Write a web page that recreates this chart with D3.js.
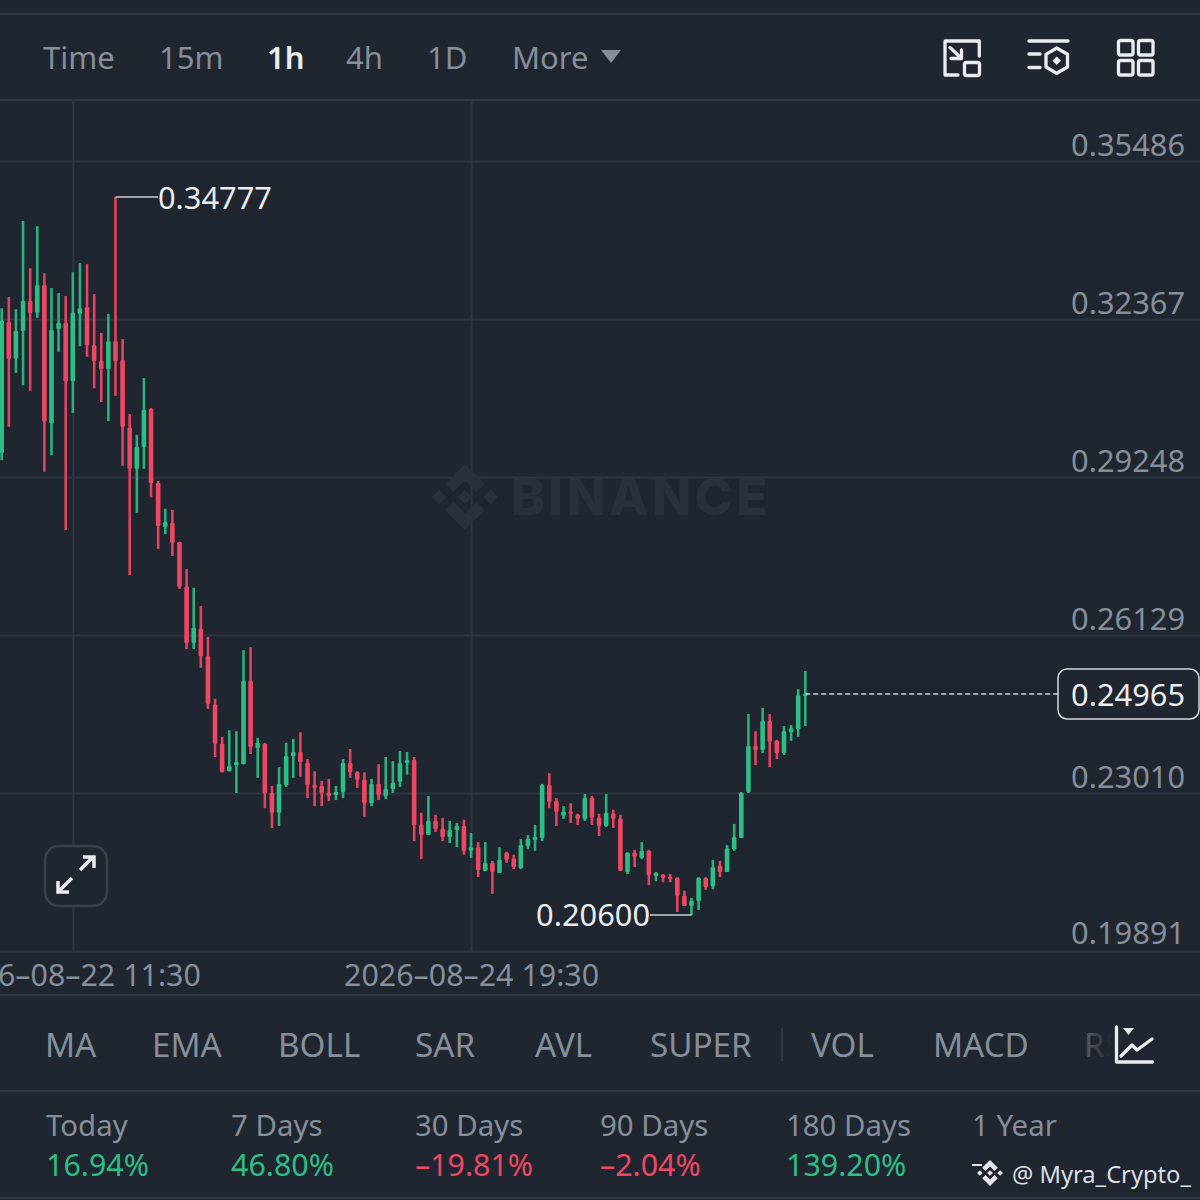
<!DOCTYPE html>
<html lang="en">
<head>
<meta charset="UTF-8">
<title>Binance 1h candles</title>
<script src="https://d3js.org/d3.v7.min.js"></script>
<style>
    html, body { margin: 0; padding: 0; background: #1f2630; }
    svg { display: block; }
    text { font-family: "Noto Sans", sans-serif; }
</style>
</head>
<body>
<div id="chart"></div>
<script>
// candle values, one entry per hour
var opens = [.2972,.3231,.3158,.3213,.3272,.3249,.3304,.3031,.3217,.3229,.3114,.3247,.3260,.3185,.3154,.3138,.3193,.3156,.3022,.2941,.2984,.3059,.2913,.2826,.2834,.2796,.2708,.2597,.2625,.2571,.2475,.2398,.2344,.2356,.2358,.2522,.2390,.2398,.2301,.2262,.2317,.2374,.2382,.2360,.2317,.2315,.2301,.2297,.2303,.2360,.2342,.2327,.2281,.2319,.2295,.2309,.2323,.2360,.2366,.2238,.2218,.2246,.2230,.2214,.2228,.2236,.2187,.2194,.2147,.2163,.2143,.2183,.2171,.2153,.2196,.2208,.2212,.2317,.2285,.2256,.2264,.2258,.2250,.2291,.2252,.2236,.2260,.2250,.2145,.2183,.2173,.2187,.2137,.2139,.2135,.2133,.2098,.2078,.2088,.2133,.2117,.2157,.2145,.2190,.2212,.2303,.2394,.2386,.2443,.2404,.2380,.2421,.2427,.2494];
var highs = [.3258,.3280,.3256,.3430,.3337,.3420,.3327,.3298,.3288,.3282,.3329,.3347,.3345,.3286,.3209,.3247,.34777,.3197,.3049,.3008,.3120,.3061,.2917,.2862,.2860,.2797,.2743,.2706,.2670,.2609,.2487,.2412,.2425,.2423,.2583,.2589,.2410,.2400,.2315,.2352,.2400,.2408,.2421,.2368,.2344,.2325,.2329,.2315,.2368,.2388,.2344,.2342,.2329,.2358,.2372,.2364,.2384,.2382,.2372,.2262,.2295,.2258,.2252,.2246,.2242,.2248,.2222,.2204,.2204,.2167,.2194,.2185,.2179,.2210,.2218,.2238,.2319,.2340,.2291,.2275,.2281,.2260,.2299,.2295,.2260,.2299,.2268,.2258,.2184,.2189,.2204,.2189,.2145,.2141,.2141,.2135,.2108,.2094,.2135,.2135,.2169,.2167,.2198,.2240,.2303,.2457,.2423,.2469,.2457,.2406,.2433,.2435,.2506,.2542];
var lows = [.2958,.3024,.3130,.3106,.3095,.3239,.2935,.2968,.3172,.2820,.3051,.3183,.3162,.3100,.3073,.3035,.3085,.2947,.2731,.2854,.2941,.2885,.2783,.2812,.2769,.2704,.2585,.2585,.2548,.2467,.2372,.2342,.2344,.2301,.2358,.2378,.2331,.2271,.2232,.2236,.2313,.2331,.2333,.2291,.2275,.2275,.2285,.2287,.2291,.2331,.2311,.2254,.2275,.2287,.2289,.2301,.2313,.2337,.2206,.2171,.2218,.2224,.2206,.2202,.2194,.2179,.2173,.2135,.2147,.2102,.2143,.2163,.2151,.2151,.2190,.2187,.2206,.2271,.2236,.2250,.2242,.2238,.2246,.2238,.2216,.2234,.2232,.2147,.2141,.2155,.2171,.2119,.2127,.2125,.2125,.2066,.2078,.2060,.2070,.2110,.2111,.2135,.2145,.2187,.2212,.2301,.2356,.2380,.2352,.2368,.2376,.2404,.2412,.2433];
var closes = [.3233,.3158,.3213,.3272,.3249,.3304,.3035,.3215,.3229,.3114,.3249,.3258,.3185,.3154,.3138,.3193,.3154,.3024,.2941,.2984,.3057,.2913,.2828,.2836,.2795,.2708,.2597,.2627,.2571,.2477,.2398,.2342,.2354,.2362,.2522,.2392,.2400,.2301,.2262,.2319,.2374,.2382,.2362,.2317,.2311,.2301,.2295,.2303,.2360,.2342,.2327,.2281,.2319,.2297,.2309,.2321,.2360,.2366,.2238,.2218,.2246,.2230,.2214,.2228,.2236,.2187,.2194,.2149,.2163,.2145,.2169,.2169,.2155,.2198,.2210,.2214,.2317,.2283,.2264,.2264,.2260,.2250,.2291,.2252,.2236,.2262,.2250,.2147,.2183,.2175,.2187,.2139,.2143,.2133,.2131,.2098,.2078,.2088,.2133,.2115,.2155,.2145,.2192,.2214,.2301,.2394,.2386,.2443,.2402,.2380,.2423,.2429,.2494,.24965];

var priceTicks = [0.35486, 0.32367, 0.29248, 0.26129, 0.23010, 0.19891];
var timeTickIndex = [10, 66];
var timeTickLabels = ['2026\u201308\u201322 11:30', '2026\u201308\u201324 19:30'];
var highLabel = 0.34777, lowLabel = 0.20600, lastPrice = 0.24965;

var tabs = ['Time', '15m', '1h', '4h', '1D', 'More'];
var tabX = [43, 159, 267, 346, 427, 512];
var indicators = ['MA', 'EMA', 'BOLL', 'SAR', 'AVL', 'SUPER', 'VOL', 'MACD'];
var indicatorX = [45, 152, 278, 415, 535, 650, 811, 933];
var periods = ['Today', '7 Days', '30 Days', '90 Days', '180 Days', '1 Year'];
var periodChange = ['16.94%', '46.80%', '\u201319.81%', '\u20132.04%', '139.20%'];
var periodX = [46, 231, 415, 600, 786, 972];

var bg = '#1f2630', grid = '#2e3540', muted = '#868e99', white = '#eaecef';
var upBody = '#2ebd85', upWick = '#2bb07d', downBody = '#ee4763', downWick = '#e2445f';

var svg = d3.select('#chart').append('svg')
    .attr('width', 1200)
    .attr('height', 1200)
    .style('background', bg);

var x = d3.scaleLinear().domain([0, opens.length - 1]).range([1.7, 805.3]);
var y = d3.scaleLinear().domain([0.19891, 0.35486]).range([951, 161]);

// panel separators
[14, 100, 995, 1091, 1198].forEach(function(h) {
    svg.append('line').attr('x1', 0).attr('x2', 1200).attr('y1', h).attr('y2', h)
        .attr('stroke', grid).attr('stroke-width', 2);
});

// price axis, ticks run the whole width as gridlines
var yAxis = svg.append('g').attr('class', 'y-axis')
    .call(d3.axisRight(y).tickValues(priceTicks).tickSize(1200).tickFormat(d3.format('.5f')));
yAxis.select('.domain').remove();
yAxis.selectAll('line').attr('stroke', grid).attr('stroke-width', 2);
yAxis.selectAll('text')
    .attr('x', 1185).attr('dy', null).attr('y', function(d) { return d === 0.19891 ? -8 : -6; })
    .attr('text-anchor', 'end')
    .attr('fill', muted).style('font-size', '30.8px').style('font-family', '"Noto Sans", sans-serif');

// time axis
var xAxis = svg.append('g').attr('class', 'x-axis')
    .attr('transform', 'translate(0,951)')
    .call(d3.axisBottom(x).tickValues(timeTickIndex).tickSize(-851)
        .tickFormat(function(d) { return timeTickLabels[timeTickIndex.indexOf(d)]; }));
xAxis.select('.domain').remove();
xAxis.selectAll('line').attr('stroke', grid).attr('stroke-width', 2);
xAxis.selectAll('text')
    .attr('y', 35).attr('dy', null)
    .attr('fill', muted).style('font-size', '30.4px').style('font-family', '"Noto Sans", sans-serif');

// exchange logo, coordinates are in units of half its height
function logo(parent, cx, cy, s, fill) {
    var shapes = [
        [[0, -1], [.6, -.4], [.35, -.15], [0, -.5], [-.35, -.15], [-.6, -.4]],
        [[0, 1], [.6, .4], [.35, .15], [0, .5], [-.35, .15], [-.6, .4]],
        [[0, -.22], [.22, 0], [0, .22], [-.22, 0]],
        [[-.78, -.22], [-.56, 0], [-.78, .22], [-1, 0]],
        [[.78, -.22], [1, 0], [.78, .22], [.56, 0]]
    ];
    parent.append('g').selectAll('polygon').data(shapes).enter().append('polygon')
        .attr('points', function(d) { return d.map(function(p) { return (cx + p[0] * s) + ',' + (cy + p[1] * s); }).join(' '); })
        .attr('fill', fill);
}
logo(svg, 465, 497, 33, '#2a303b');
svg.append('text').attr('x', 511).attr('y', 515)
    .attr('fill', '#2a303b')
    .style('font-family', 'Inter').style('font-weight', 800).style('font-size', '51px').style('letter-spacing', '3.6px')
    .text('BINANCE');

// candles
var candles = svg.append('g').selectAll('g').data(opens).enter().append('g');
function candleColor(i, up, down) { return closes[i] >= opens[i] ? up : down; }
candles.append('rect')
    .attr('x', function(d, i) { return x(i) - 1.3; })
    .attr('width', 2.6)
    .attr('y', function(d, i) { return y(highs[i]); })
    .attr('height', function(d, i) { return y(lows[i]) - y(highs[i]); })
    .attr('fill', function(d, i) { return candleColor(i, upWick, downWick); });
candles.append('rect')
    .attr('x', function(d, i) { return x(i) - 2.3; })
    .attr('width', 4.6)
    .attr('rx', 1)
    .attr('y', function(d, i) { return y(Math.max(opens[i], closes[i])); })
    .attr('height', function(d, i) { return Math.max(2, Math.abs(y(opens[i]) - y(closes[i]))); })
    .attr('fill', function(d, i) { return candleColor(i, upBody, downBody); });

// high and low callouts
var iHigh = highs.indexOf(highLabel), iLow = lows.indexOf(lowLabel);
svg.append('path')
    .attr('d', 'M' + x(iHigh) + ',' + y(highLabel) + 'H158')
    .attr('fill', 'none').attr('stroke', '#c9cdd2').attr('stroke-width', 1.5);
svg.append('text').attr('x', 158).attr('y', y(highLabel) + 12)
    .attr('fill', white).style('font-size', '30.8px').text(d3.format('.5f')(highLabel));
svg.append('path')
    .attr('d', 'M650,' + y(lowLabel) + 'H' + x(iLow))
    .attr('fill', 'none').attr('stroke', '#c9cdd2').attr('stroke-width', 1.5);
svg.append('text').attr('x', 650).attr('y', y(lowLabel) + 11).attr('text-anchor', 'end')
    .attr('fill', white).style('font-size', '30.8px').text(d3.format('.5f')(lowLabel));

// last price
svg.append('line')
    .attr('x1', x(opens.length - 1)).attr('x2', 1058)
    .attr('y1', y(lastPrice)).attr('y2', y(lastPrice))
    .attr('stroke', '#d5d8dc').attr('stroke-width', 1.5).attr('stroke-dasharray', '5 3');
svg.append('rect').attr('x', 1058).attr('y', 669).attr('width', 141).attr('height', 50).attr('rx', 9)
    .attr('fill', bg).attr('stroke', '#d5d8dc').attr('stroke-width', 1.5);
svg.append('text').attr('x', 1185).attr('y', y(lastPrice) + 12).attr('text-anchor', 'end')
    .attr('fill', white).style('font-size', '30.8px').text(d3.format('.5f')(lastPrice));

// top tabs
svg.append('g').selectAll('text').data(tabs).enter().append('text')
    .attr('x', function(d, i) { return tabX[i]; })
    .attr('y', 69)
    .attr('fill', function(d) { return d === '1h' ? white : muted; })
    .style('font-size', '31px')
    .style('font-weight', function(d) { return d === '1h' ? 600 : 400; })
    .text(function(d) { return d; });
svg.append('path').attr('d', 'M601,50H621L611,63Z').attr('fill', muted);

// toolbar icons
var icons = svg.append('g').attr('fill', 'none').attr('stroke', white).attr('stroke-width', 3.3)
    .attr('stroke-linecap', 'round').attr('stroke-linejoin', 'round');
icons.append('path').attr('d', 'M979.3,56V41H945V75H958');
icons.append('rect').attr('x', 964.5).attr('y', 62.5).attr('width', 15).attr('height', 13).attr('rx', 2);
icons.append('path').attr('d', 'M950,47.5L961.5,58.5M961.5,50V58.5H951');
icons.append('path').attr('d', 'M1029,41H1068M1029,54H1040M1029,67.5H1040');
icons.append('path').attr('d', 'M1056.7,48L1067.5,54.3V67L1056.7,73.3L1046,67V54.3Z');
icons.append('path').attr('d', 'M1056.7,56.5L1061,60.7L1056.7,65L1052.5,60.7Z').attr('fill', white).attr('stroke', 'none');
[[1118.5, 40.5], [1138.5, 40.5], [1118.5, 60.5], [1138.5, 60.5]].forEach(function(p) {
    icons.append('rect').attr('x', p[0]).attr('y', p[1]).attr('width', 14.5).attr('height', 14.5).attr('rx', 2);
});

// expand button
svg.append('rect').attr('x', 45).attr('y', 846).attr('width', 62).attr('height', 60).attr('rx', 14)
    .attr('fill', bg).attr('stroke', '#3a414c').attr('stroke-width', 2.5);
svg.append('path')
    .attr('d', 'M80,870L93,857M83,857H94V868M72,878L59,891M58,881V892H69')
    .attr('fill', 'none').attr('stroke', white).attr('stroke-width', 3.5);

// indicator row
var fade = svg.append('defs').append('linearGradient').attr('id', 'rsiFade')
    .attr('gradientUnits', 'userSpaceOnUse').attr('x1', 1084).attr('x2', 1112).attr('y1', 0).attr('y2', 0);
fade.append('stop').attr('offset', 0).attr('stop-color', muted).attr('stop-opacity', .55);
fade.append('stop').attr('offset', 1).attr('stop-color', muted).attr('stop-opacity', 0);
svg.append('g').selectAll('text').data(indicators).enter().append('text')
    .attr('x', function(d, i) { return indicatorX[i]; })
    .attr('y', 1057)
    .attr('fill', muted).style('font-size', '33.2px')
    .text(function(d) { return d; });
svg.append('text').attr('x', 1084).attr('y', 1057).attr('fill', 'url(#rsiFade)').style('font-size', '33.2px').text('RSI');
svg.append('line').attr('x1', 782).attr('x2', 782).attr('y1', 1028).attr('y2', 1061).attr('stroke', '#39404b').attr('stroke-width', 1.5);
var lineIcon = svg.append('g').attr('fill', 'none').attr('stroke', white).attr('stroke-width', 3.3).attr('stroke-linecap', 'round').attr('stroke-linejoin', 'round');
lineIcon.append('path').attr('d', 'M1116.5,1027V1062H1152.5');
lineIcon.append('path').attr('d', 'M1121,1056L1132,1045L1137,1050L1152,1039');
svg.append('path').attr('d', 'M1123,1028H1134L1128.5,1035Z').attr('fill', white);

// period performance
svg.append('g').selectAll('text').data(periods).enter().append('text')
    .attr('x', function(d, i) { return periodX[i]; })
    .attr('y', 1136)
    .attr('fill', muted).style('font-size', '29.4px')
    .text(function(d) { return d; });
svg.append('g').selectAll('text').data(periodChange).enter().append('text')
    .attr('x', function(d, i) { return periodX[i]; })
    .attr('y', 1176)
    .attr('fill', function(d) { return d.charAt(0) === '\u2013' ? downBody : upBody; })
    .style('font-size', '30.4px')
    .text(function(d) { return d; });

// watermark bottom right
logo(svg, 990, 1173, 13, '#e3e5e8');
svg.append('line').attr('x1', 972).attr('x2', 982).attr('y1', 1165).attr('y2', 1165).attr('stroke', '#e3e5e8').attr('stroke-width', 2);
svg.append('text').attr('x', 1012).attr('y', 1183)
    .attr('fill', '#dcdfe3').style('font-size', '23.7px').text('@ Myra_Crypto_');
</script>
</body>
</html>
